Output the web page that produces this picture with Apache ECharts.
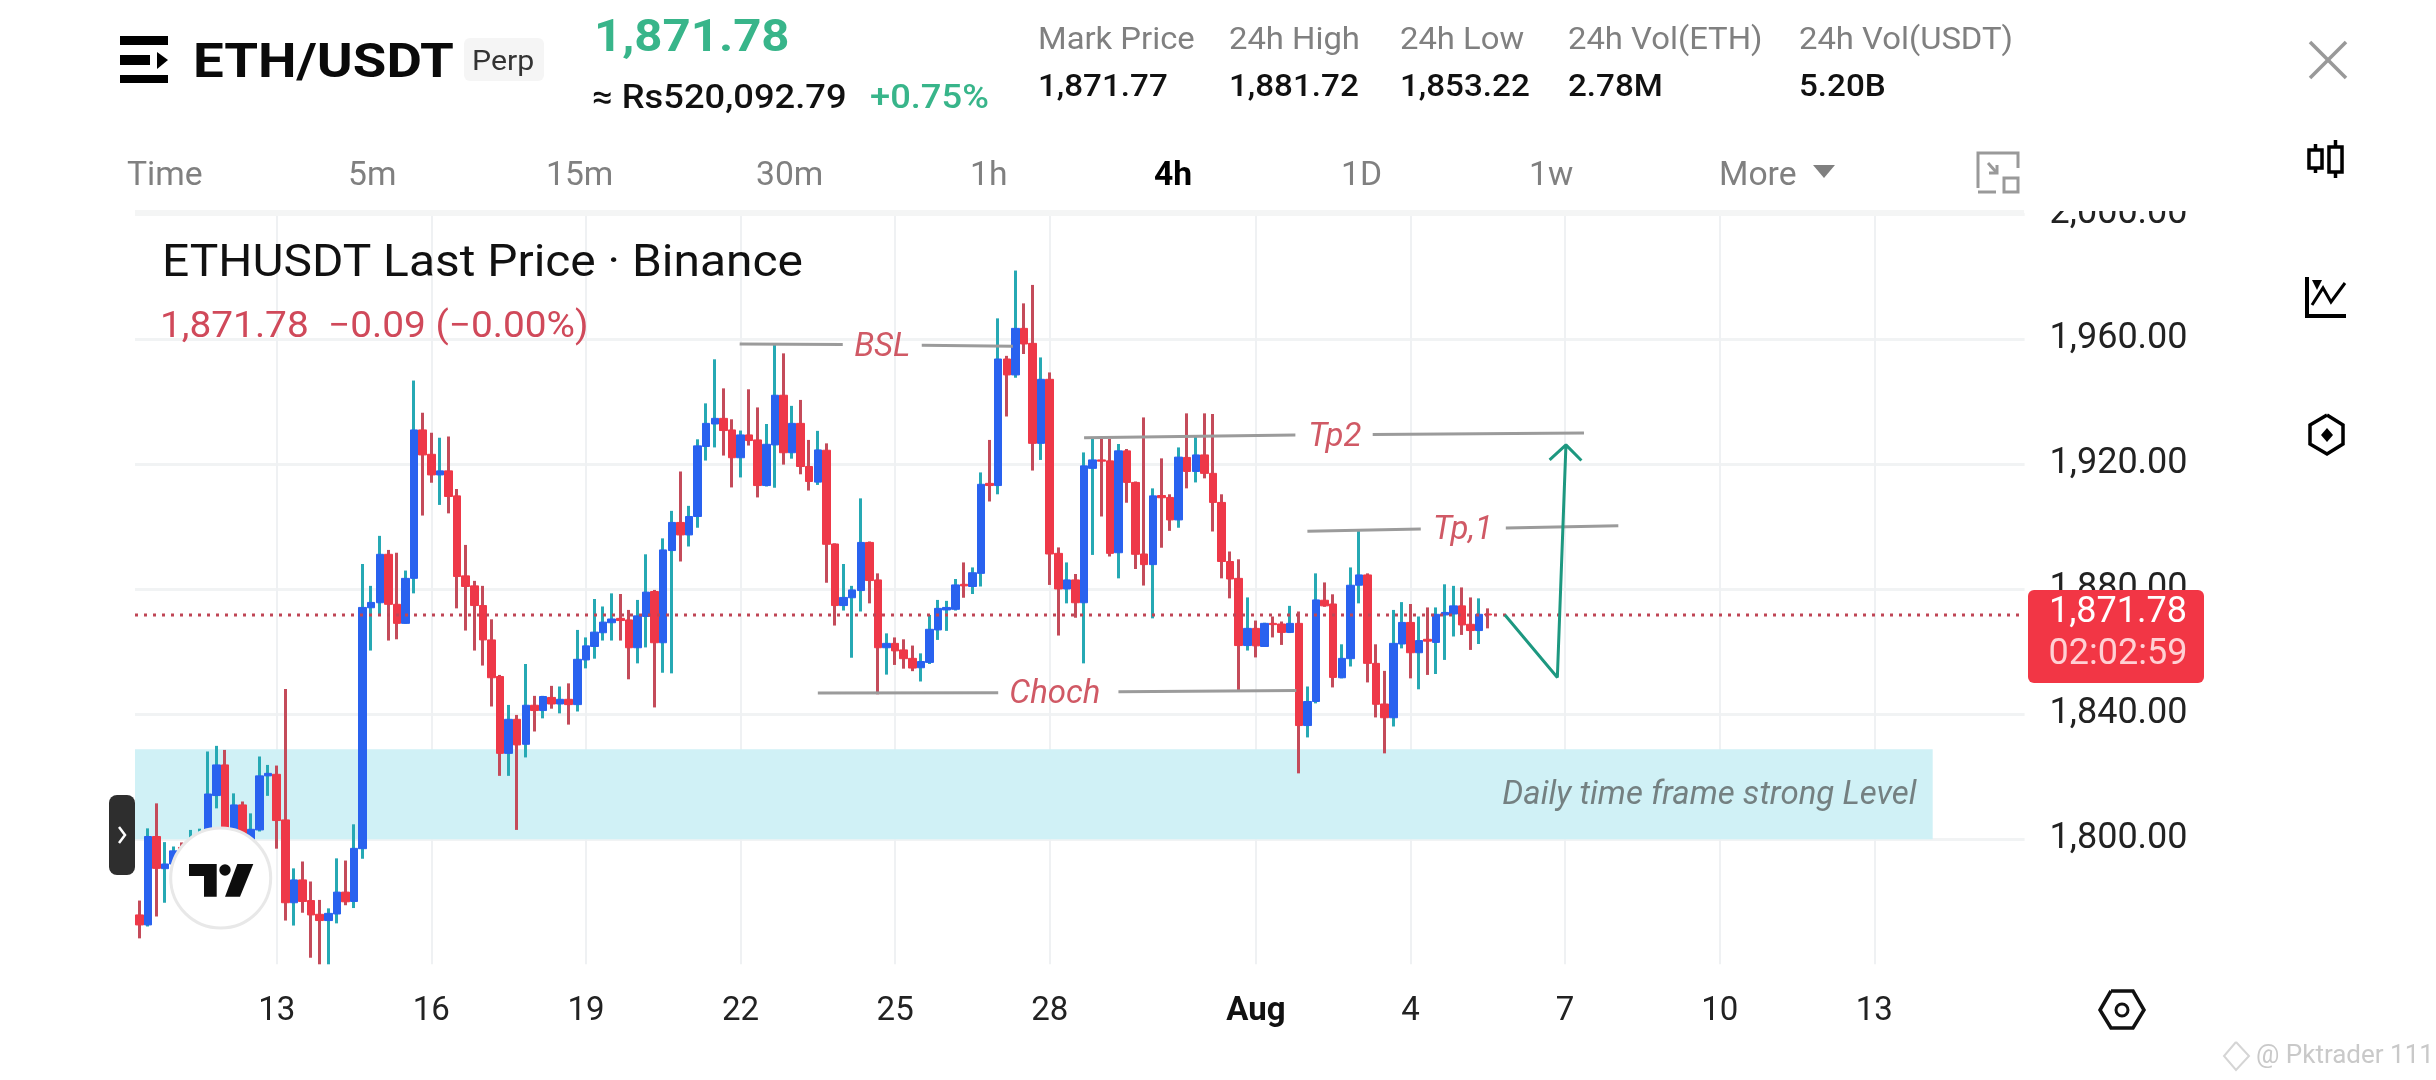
<!DOCTYPE html>
<html><head><meta charset="utf-8">
<style>html,body{margin:0;padding:0;background:#fff}#c{width:2436px;height:1080px}</style>
<script src="https://cdn.jsdelivr.net/npm/echarts@6/dist/echarts.min.js"></script>
</head><body><div id="c"></div>
<script>
const opens=[1775.8,1772.6,1800.9,1790.6,1792.1,1797.4,1796.6,1797.7,1800.9,1814,
1823.8,1803,1811,1800,1803,1820.3,1820.8,1806.2,1779.7,1787,
1780.4,1776,1774,1776.1,1783.1,1780.1,1797,1874.1,1875.7,1891.2,
1875.2,1869.1,1883.5,1931,1923.2,1916.6,1917.9,1909.9,1884.3,1881.1,
1874.8,1863.8,1852.1,1827.5,1838.4,1830.4,1842.9,1841.2,1845.4,1843.3,
1844.8,1843.1,1857.4,1861.7,1866.1,1869.3,1870.7,1870.2,1861.3,1871.3,
1879.3,1862.9,1892.4,1901.4,1897.4,1903.3,1925.7,1932.9,1934.7,1931,
1922.1,1929.4,1927.8,1913.2,1926.2,1942.1,1923.7,1933.1,1919.3,1914.3,
1924.5,1894.5,1874.8,1877.3,1879.6,1895,1883,1861.3,1862.7,1860.6,
1857.9,1854.9,1856.6,1867,1873.4,1873.6,1881.6,1880.9,1885.1,1913.9,
1913.2,1953.7,1948.6,1963.5,1958.7,1926.7,1947.2,1891.5,1880.1,1883,
1875.7,1918.7,1921.4,1921.1,1891.7,1924.3,1914.2,1891.3,1887.9,1910,
1909.4,1902.2,1922.2,1917.7,1923,1917.1,1907.8,1888.9,1883.5,1862,
1867.5,1861.7,1869.1,1868.9,1866.2,1869.1,1836.4,1844.1,1876.5,1875.3,
1851.7,1857.8,1881.3,1884.6,1856.3,1843.3,1838.9,1862.5,1869.4,1859.7,
1864,1863,1871.8,1872.1,1874.7,1868.8,1866.8,1872.1];
const closes=[1772.6,1800.9,1790.7,1792.1,1796.3,1795.5,1798.7,1800.3,1814.5,1823.8,
1803,1811,1800.9,1803.2,1820.3,1821.1,1806,1779.7,1787,1780.1,
1775.8,1774,1776.3,1783.1,1780,1797.1,1874.2,1875.8,1891.2,1875.2,
1869.1,1883.5,1931,1923,1916.6,1917.9,1909.7,1884.1,1880.9,1874.8,
1863.8,1851.7,1827.5,1838.4,1830.2,1842.9,1841.2,1845.7,1843.3,1844.8,
1843.1,1857.6,1861.9,1866.3,1869.5,1870.5,1870,1861.3,1871.5,1879.1,
1862.9,1892.6,1901.4,1897.4,1903.3,1925.9,1933.1,1934.7,1930.8,1922.1,
1929.4,1927.6,1913.2,1926.4,1942.1,1923.7,1933.1,1919.3,1914.5,1924.6,
1894.4,1874.8,1877.4,1879.8,1895,1882.8,1861.3,1862.7,1860.3,1857.8,
1854.8,1856.9,1867.2,1873.9,1874.2,1881.4,1881.1,1885.3,1913.6,1913.2,
1953.7,1948.6,1963.5,1958.5,1926.7,1947.2,1891.3,1880.1,1883,1875.7,
1919.5,1921.4,1921,1891.5,1924.3,1914.2,1891.2,1887.9,1909.9,1909.3,
1902.2,1922.3,1917.7,1923,1917.1,1907.8,1888.9,1883.3,1862,1867.5,
1861.9,1869.1,1868.7,1866.2,1869.1,1836.4,1844.1,1876.6,1874.7,1851.8,
1857.9,1881.3,1884.6,1856.3,1843.2,1838.9,1862.7,1869.4,1859.7,1863.6,
1863.4,1872,1872.6,1874.7,1868.6,1866.8,1872,1871.78];
const highs=[1780.4,1803.5,1811.5,1799.1,1797.7,1799,1803,1803.4,1828.1,1829.9,
1828.6,1814.7,1812.1,1808.3,1826.5,1823.8,1823.6,1848.1,1790.7,1792.9,
1786.5,1780.6,1777.9,1793.9,1793.2,1804.8,1888.1,1881.1,1897.1,1892.6,
1891.7,1886,1946.8,1936.5,1930.1,1928.5,1928.9,1912.1,1894.2,1882.7,
1881.1,1870.4,1852.6,1843,1839.8,1856.1,1845.9,1845.9,1849.1,1848.9,
1849.9,1867,1864.6,1876.9,1874.5,1878.7,1878.5,1873.4,1876.6,1891.2,
1879.8,1896.3,1905.1,1917.7,1906.7,1928,1939.5,1953.6,1944.3,1934.4,
1930.8,1944,1938.2,1932.9,1958.7,1955.5,1938.7,1940.6,1927.8,1930.7,
1926.7,1894.7,1888.1,1881.1,1909.1,1895.3,1885.1,1865.9,1864.6,1864,
1862,1859.5,1871.8,1876.6,1876.3,1883.3,1888.6,1887,1917.4,1927.8,
1966.7,1954.7,1982,1971.5,1977.4,1954.2,1949.4,1893.4,1888.6,1884.9,
1923.8,1928.3,1928.9,1928.1,1926.5,1924.9,1914.5,1935,1912.3,1921.9,
1910.4,1925.4,1936.3,1928.9,1936.3,1936.1,1910.4,1892.1,1889.6,1877.4,
1870,1869.3,1871.3,1869.7,1874.7,1872.9,1848.9,1885.1,1882.2,1878.4,
1862.4,1887,1898.8,1885.1,1862.4,1853.9,1873.4,1875.9,1875.3,1871.3,
1874.2,1874.2,1881.6,1881.1,1880.6,1877.4,1877.1,1873.9];
const lows=[1768.3,1772.1,1775.3,1779.7,1790.7,1793.4,1794.5,1795.5,1797.7,1809.9,
1799.8,1800.9,1798.7,1797.7,1802.5,1813.9,1797,1774,1772.4,1776.5,
1762.1,1760,1760,1773.1,1778.9,1778,1793.8,1860.4,1871.8,1863.6,
1864,1869,1878.7,1903.6,1914.1,1907,1904.3,1873.9,1866.8,1860.4,
1855.6,1842.5,1820.3,1820.3,1803,1826.2,1834.5,1838.7,1841.8,1840.3,
1836.7,1840.9,1854.7,1857.8,1863.6,1863.6,1863.6,1851.2,1856.3,1861.4,
1842.2,1853.3,1853.1,1888.9,1893.7,1899.7,1921.2,1925.4,1922.8,1912.6,
1915.8,1926,1909.4,1912.9,1912.5,1919.9,1921.8,1916.8,1911.6,1913.4,
1882.1,1868.4,1873.2,1858.1,1872.9,1875.5,1846.4,1852.7,1855.8,1854.6,
1853.8,1850.5,1856.1,1863.8,1866.7,1873.2,1877.3,1878.5,1880.9,1908.1,
1910.4,1935.3,1947.7,1955.3,1918,1921.4,1881.4,1865.2,1875.5,1870.9,
1856.3,1891,1903.3,1890.5,1883.5,1907.7,1886.5,1881.2,1870.7,1893.3,
1898.7,1899.7,1912.3,1914.2,1915.5,1898.5,1883.5,1877.1,1847.6,1860.4,
1858.2,1861.6,1864.6,1862.2,1866,1821.1,1832.6,1843.5,1874.4,1848.6,
1851.5,1855.3,1875.5,1850.2,1839,1827.5,1836.1,1861.1,1851.5,1848,
1852.6,1852.9,1857.4,1864.9,1865.4,1860.6,1862.5,1867.5];

// x axis: 4h slots; tick labels sit at these slot numbers
const slotCount=220;
const tickSlots=[16,34,52,70,88,106,130,148,166,184,202];
const tickLabels=['13','16','19','22','25','28','Aug','4','7','10','13'];
const yTicks=[1760,1800,1840,1880,1920,1960,2000];
const lastPrice=1871.78;

// drawn annotations, in [slot, price]
const zoneBox=[[-0.5,1800],[208.8,1828.8]];
const drawnLines=[
 [[69.9,1958.5],[81.9,1958.3]],[[91.1,1958.1],[101.7,1957.8]],
 [[110,1928.5],[134.6,1929.4]],[[143.6,1929.5],[168.2,1930]],
 [[136,1898.6],[149.2,1899.3]],[[159.1,1899.6],[172.2,1900.3]],
 [[79,1846.8],[100,1846.9]],[[114,1847.2],[134.7,1847.6]]
];
const arrowPath=[[159,1871.8],[165.1,1851.8],[166.1,1926.2],[164.2,1921.4],[166.1,1926.2],[167.9,1921.2]];
const drawnLabels=[
 {name:'BSL',value:[86.5,1957.2]},{name:'Tp2',value:[139.2,1928.6]},
 {name:'Tp,1',value:[154.1,1898.6]},{name:'Choch',value:[106.6,1846.2]}
];
const zoneLabel={name:'Daily time frame strong Level',value:[182.8,1814]};

// header text
const FONT='Roboto, sans-serif';
const statHeads=[['Mark Price',1038],['24h High',1229],['24h Low',1400],['24h Vol(ETH)',1568],['24h Vol(USDT)',1799]];
const statVals=[['1,871.77',1038],['1,881.72',1229],['1,853.22',1400],['2.78M',1568],['5.20B',1799]];
const tabs=[['Time',127],['5m',348],['15m',546],['30m',756],['1h',970],['4h',1154],['1D',1341],['1w',1529],['More',1719]];

const categories=[];for(let i=0;i<slotCount;i++)categories.push('s'+i);
const wickData=opens.map((o,i)=>[o,closes[i],lows[i],highs[i]]);
const bodyData=opens.map((o,i)=>[o,closes[i],Math.min(o,closes[i]),Math.max(o,closes[i])]);
const isTick=i=>tickSlots.indexOf(i)>=0;

function T(text,x,y,size,fill,o){o=o||{};return {type:'text',z:o.z||100,scaleX:o.sx||1,originX:x,originY:y,style:{text,x,y,fill,
  font:(o.style?o.style+' ':'')+(o.weight||400)+' '+size+'px '+(o.family||FONT),textAlign:o.align||'left',textVerticalAlign:'middle'}};}
function PL(points,stroke,w,z){return {type:'polyline',z:z||100,shape:{points},style:{stroke,lineWidth:w,fill:null}};}
function PG(points,fill,z){return {type:'polygon',z:z||100,shape:{points},style:{fill}};}
function R(x,y,width,height,fill,z,r){return {type:'rect',z:z||100,shape:{x,y,width,height,r:r||0},style:{fill}};}

const g=[];
// cover above chart, clipping the top axis label
g.push(R(2026,130,280,81,'#fff',50));
g.push(R(135,210,1889,6,'#f4f5f5',1));
// header logo
g.push(R(120,36,48,9,'#000'),R(120,75,48,8,'#000'),R(120,55,30,10,'#000'),PG([[157,52],[168,60],[157,69]],'#000'));
g.push(T('ETH/USDT',193,65,48,'#0a0a0a',{weight:700,sx:1.137}));
g.push(R(464,38,80,43,'#f5f5f5',99,6));
g.push(T('Perp',472,63,28,'#333',{sx:1.08}));
g.push(T('1,871.78',594,40,44,'#38b58a',{weight:700,sx:1.117}));
g.push(T('≈ Rs520,092.79',592,100,33,'#111',{weight:500,sx:1.1}));
g.push(T('+0.75%',870,100,33,'#38b58a',{weight:500,sx:1.1}));
statHeads.forEach(s=>g.push(T(s[0],s[1],41,32,'#808080',{sx:1.025})));
statVals.forEach(s=>g.push(T(s[0],s[1],88,31,'#111',{weight:500,sx:1.07})));
tabs.forEach(s=>g.push(T(s[0],s[1],177,33,s[0]==='4h'?'#000':'#808080',{weight:s[0]==='4h'?700:400,sx:1.02})));
g.push(PG([[1813,165],[1835,165],[1824,178]],'#808080'));
// layout icon
g.push(PL([[1978,188],[1978,153],[2018,153],[2018,168]],'#999',3),PL([[1978,192],[1996,192]],'#999',3),
 {type:'rect',z:100,shape:{x:2004,y:178,width:14,height:14},style:{stroke:'#999',lineWidth:3,fill:null}},
 PL([[1988,163],[1997,173]],'#999',3),PL([[1997,165],[1997,173],[1989,173]],'#999',3));
// right side icons
g.push(PL([[2310,42],[2346,78]],'#999',3.5),PL([[2346,42],[2310,78]],'#999',3.5));
g.push({type:'rect',z:100,shape:{x:2309,y:150,width:13,height:18},style:{stroke:'#000',lineWidth:3.5,fill:null}},
 {type:'rect',z:100,shape:{x:2329,y:147,width:13,height:25},style:{stroke:'#000',lineWidth:3.5,fill:null}},
 PL([[2315.5,144],[2315.5,150]],'#000',3.5),PL([[2315.5,168],[2315.5,173]],'#000',3.5),
 PL([[2335.5,140],[2335.5,147]],'#000',3.5),PL([[2335.5,172],[2335.5,178]],'#000',3.5));
g.push(PL([[2307,277],[2307,316],[2346,316]],'#000',4),PL([[2312,305],[2323,288],[2331,302],[2345,283]],'#000',3),PG([[2312,280],[2322,280],[2317,290]],'#000'));
g.push(PL([[2327,415],[2343,425],[2343,444],[2327,454],[2310,444],[2310,425],[2327,415]],'#000',3.5),PG([[2327,428],[2333,435],[2327,442],[2321,435]],'#000'));
g.push(PL([[2111,991],[2133,991],[2144,1010],[2133,1028],[2111,1028],[2100,1010],[2111,991]],'#111',3.5),
 {type:'circle',z:100,shape:{cx:2122,cy:1010,r:6},style:{stroke:'#111',lineWidth:3,fill:null}});
// chart legend
g.push(T('ETHUSDT Last Price · Binance',162,265,45,'#111',{sx:1.064}));
g.push(T('1,871.78  −0.09 (−0.00%)',160,328,36,'#d0495a',{sx:1.078}));
// price tag
g.push(R(2028,590,176,93,'#f23645',100,6));
g.push(T('1,871.78',2118,613,36,'#fff',{align:'center',z:101}));
g.push(T('02:02:59',2118,655,36,'#ffd0d4',{align:'center',z:101}));
// handle + logo
g.push(R(109,795,26,80,'#2e2e2e',100,8),PL([[119,827],[125,835],[119,843]],'#fff',2.5));
g.push({type:'circle',z:100,shape:{cx:220.7,cy:878,r:50},style:{fill:'#fff',stroke:'#e8e8e8',lineWidth:3}});
g.push(PG([[189,864],[216.7,864],[216.7,896.7],[204,896.7],[204,876],[189,876]],'#0d0d0d'),PG([[253.3,864],[240,896.7],[225,896.7],[237.3,864]],'#0d0d0d'),
 {type:'circle',z:100,shape:{cx:225,cy:870,r:5.7},style:{fill:'#0d0d0d'}});
// watermark
g.push(T('@ Pktrader 111',2256,1056,26,'#c9c9c9'));
g.push(PL([[2236,1042],[2249,1056],[2236,1070],[2224,1056],[2236,1042]],'#d5d5d5',2));

const lineBase={type:'line',xAxisIndex:1,yAxisIndex:0,showSymbol:false,symbol:'none',silent:true,animation:false};
const series=[
 Object.assign({},lineBase,{name:'zone',z:1,data:zoneBox,lineStyle:{opacity:0},
   markArea:{silent:true,itemStyle:{color:'#d0f1f6'},data:[[{coord:zoneBox[0]},{coord:zoneBox[1]}]]}}),
 {type:'candlestick',name:'wicks',z:3,barWidth:1,animation:false,silent:true,data:wickData,
   itemStyle:{color:'#26a9b4',color0:'#c44b5a',borderColor:'#26a9b4',borderColor0:'#c44b5a',borderWidth:3}},
 {type:'candlestick',name:'bodies',z:4,barWidth:8,animation:false,silent:true,data:bodyData,
   itemStyle:{color:'#2962ef',color0:'#ee3848',borderColor:'#2962ef',borderColor0:'#ee3848',borderWidth:1}},
 Object.assign({},lineBase,{name:'last',z:5,data:[[-0.5,lastPrice],[219.5,lastPrice]],lineStyle:{color:'#bf4555',width:3,type:[3,6]}})
];
drawnLines.forEach(d=>series.push(Object.assign({},lineBase,{z:6,data:d,lineStyle:{color:'#9b9b9b',width:3}})));
series.push(Object.assign({},lineBase,{z:6,data:arrowPath,lineStyle:{color:'#1d9880',width:3}}));
series.push({type:'scatter',xAxisIndex:1,yAxisIndex:0,z:7,symbolSize:1,animation:false,silent:true,itemStyle:{color:'transparent'},data:drawnLabels,
  label:{show:true,position:'inside',formatter:'{b}',color:'#c4303f',fontStyle:'italic',fontFamily:FONT,fontSize:33}});
series.push({type:'scatter',xAxisIndex:1,yAxisIndex:0,z:7,symbolSize:1,animation:false,silent:true,itemStyle:{color:'transparent'},data:[zoneLabel],
  label:{show:true,position:'inside',formatter:'{b}',color:'#5c6464',fontStyle:'italic',fontFamily:FONT,fontSize:33}});

const chart=echarts.init(document.getElementById('c'),null,{width:2436,height:1080});
chart.setOption({
 animation:false,backgroundColor:'#fff',
 grid:{left:135,top:214.3,width:1889.6,height:750,containLabel:false},
 xAxis:[
  {type:'category',data:categories,boundaryGap:true,axisLine:{show:false},axisTick:{show:false},
   axisLabel:{interval:(i)=>isTick(i),margin:31,fontFamily:FONT,fontSize:33,color:'#222',
     formatter:(v,i)=>{const k=tickSlots.indexOf(i);if(k<0)return'';const s=tickLabels[k];return s==='Aug'?'{b|Aug}':s;},
     rich:{b:{fontFamily:FONT,fontSize:33,fontWeight:700,color:'#111'}}},
   splitLine:{show:true,alignWithLabel:true,interval:(i)=>isTick(i),lineStyle:{color:'#eff1f3',width:2}}},
  {type:'value',min:-0.5,max:219.5,show:false,splitLine:{show:false}}
 ],
 yAxis:[{type:'value',position:'right',min:yTicks[0],max:yTicks[yTicks.length-1],interval:40,
   axisLine:{show:false},axisTick:{show:false},
   splitLine:{show:true,showMinLine:false,lineStyle:{color:'#f1f3f4',width:3}},
   axisLabel:{showMinLabel:false,margin:25,align:'left',padding:[0,0,8,0],fontFamily:FONT,fontSize:36,color:'#222',
     formatter:v=>v.toLocaleString('en-US',{minimumFractionDigits:2,maximumFractionDigits:2})}}],
 series,
 graphic:{elements:g}
});
</script></body></html>
